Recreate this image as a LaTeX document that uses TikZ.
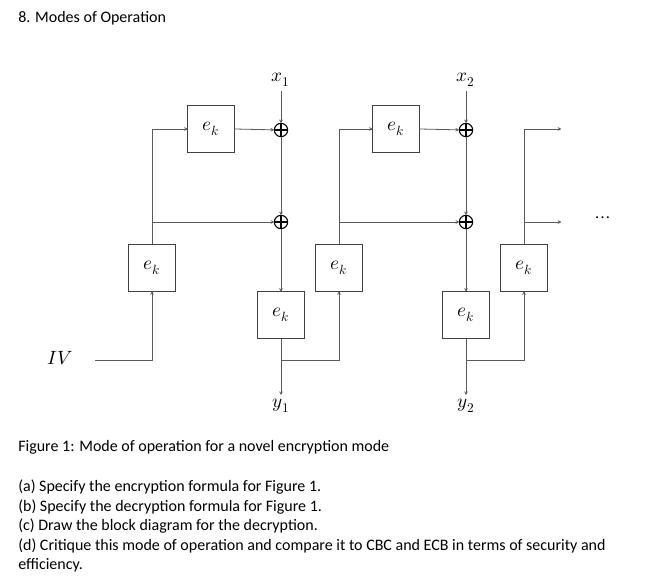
\documentclass[tikz,border=0pt]{standalone}
\usepackage{fontspec}
\setmainfont{Carlito}
\usepackage{unicode-math}
\setmathfont{Latin Modern Math}
\usetikzlibrary{arrows.meta}
\begin{document}
\begin{tikzpicture}[x=0.75pt,y=-0.75pt,
  box/.style={draw=black!75,minimum width=35pt,minimum height=35pt,inner sep=0pt,font=\Large},
  xo/.style={circle,draw,thick,minimum size=10pt,inner sep=0pt,path picture={\draw[thick] (path picture bounding box.north)--(path picture bounding box.south) (path picture bounding box.west)--(path picture bounding box.east);}},
  ln/.style={draw=black!65,line width=0.6pt},
  ar/.style={ln,-{To[length=2.5pt,width=2.5pt]}},
  txt/.style={anchor=west,inner sep=0pt,font=\fontsize{12}{14}\selectfont}]
\useasboundingbox (0,0) rectangle (646,581);
% column 1
\node[box] (a1) at (152,268) {$e_k$};
\node[box] (b1) at (211,129) {$e_k$};
\node[xo] (p1) at (281,130) {};
\node[xo] (q1) at (281,222) {};
\node[box] (c1) at (281,315) {$e_k$};
\node (x1) at (281,80) {\Large$x_1$};
\node (y1) at (281,406) {\Large$y_1$};
\node (iv) at (60,358) {\Large$IV$};
% column 2
\node[box] (a2) at (339,268) {$e_k$};
\node[box] (b2) at (396,129) {$e_k$};
\node[xo] (p2) at (466,130) {};
\node[xo] (q2) at (466,222) {};
\node[box] (c2) at (466,315) {$e_k$};
\node (x2) at (466,80) {\Large$x_2$};
\node (y2) at (466,406) {\Large$y_2$};
% column 3
\node[box] (a3) at (524,268) {$e_k$};
\node (dots) at (603,220) {\Large$\cdots$};
\coordinate (o1) at (561,129);
\coordinate (o2) at (561,222);
% connections col1
\draw[ar] (95,360) -| (a1.south);
\draw[ar] (a1.north) |- (b1.west);
\draw[ar] (152,222) -- (q1);
\draw[ar] (b1.east) -- (p1);
\draw[ar] (x1) -- (p1);
\draw[ar] (p1) -- (q1);
\draw[ar] (q1) -- (c1.north);
\draw[ar] (c1.south) -- (y1);
\draw[ar] (281,360) -| (a2.south);
% col2
\draw[ar] (a2.north) |- (b2.west);
\draw[ar] (339,222) -- (q2);
\draw[ar] (b2.east) -- (p2);
\draw[ar] (x2) -- (p2);
\draw[ar] (p2) -- (q2);
\draw[ar] (q2) -- (c2.north);
\draw[ar] (c2.south) -- (y2);
\draw[ar] (466,360) -| (a3.south);
% col3
\draw[ar] (a3.north) |- (o1);
\draw[ar] (524,222) -- (o2);
% texts
\node[txt] (t0) at (18,18) {8. Modes of Operation};
\node[txt] (t1) at (18,447) {Figure 1: Mode of operation for a novel encryption mode};
\node[txt] (t2) at (18,487) {(a) Specify the encryption formula for Figure 1.};
\node[txt] (t3) at (18,507) {(b) Specify the decryption formula for Figure 1.};
\node[txt] (t4) at (18,526) {(c) Draw the block diagram for the decryption.};
\node[txt] (t5) at (18,546) {(d) Critique this mode of operation and compare it to CBC and ECB in terms of security and};
\node[txt] (t6) at (18,565) {efficiency.};
\end{tikzpicture}
\end{document}
